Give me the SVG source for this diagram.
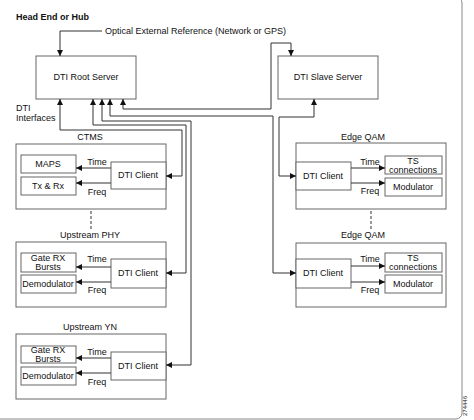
<svg xmlns="http://www.w3.org/2000/svg" width="474" height="420" viewBox="0 0 474 420">
<defs>
<style>
text{font-family:"Liberation Sans",Arial,sans-serif;font-size:9px;fill:#111}
.b{fill:#fff;stroke:#666;stroke-width:1}
.c{fill:none;stroke:#333;stroke-width:1}
.m{text-anchor:middle}
.t{font-weight:bold}
</style>
<marker id="a" viewBox="0 0 10 10" refX="10" refY="5" markerWidth="7" markerHeight="6" orient="auto-start-reverse" markerUnits="userSpaceOnUse"><path d="M0,0 L10,5 L0,10 z" fill="#111"/></marker>
</defs>
<rect x="-6" y="-3" width="468" height="422" rx="6" fill="none" stroke="#888"/>
<text x="16" y="20" class="t">Head End or Hub</text>
<text x="105" y="34">Optical External Reference (Network or GPS)</text>
<text x="467" y="406" class="m" style="font-size:6px" transform="rotate(-90 467 406)">274446</text>
<text x="16" y="111">DTI</text>
<text x="16" y="121">Interfaces</text>

<g id="root"><rect class="b" x="36" y="56" width="100" height="43"/><text x="86" y="80" class="m">DTI Root Server</text></g>
<g id="slave"><rect class="b" x="278" y="56" width="100" height="43"/><text x="328" y="80" class="m">DTI Slave Server</text></g>

<g id="ctms">
<text x="90" y="140" class="m">CTMS</text>
<rect class="b" x="16" y="144" width="150" height="65"/>
<rect class="b" x="21" y="155" width="55" height="18"/><text x="48" y="167" class="m">MAPS</text>
<rect class="b" x="21" y="177" width="55" height="18"/><text x="48" y="189" class="m">Tx &amp; Rx</text>
<rect class="b" x="111" y="162" width="55" height="27"/><text x="138" y="178" class="m">DTI Client</text>
<text x="97" y="165" class="m">Time</text><text x="97" y="195" class="m">Freq</text>
</g>

<g id="phy">
<text x="90" y="238" class="m">Upstream PHY</text>
<rect class="b" x="16" y="242" width="150" height="65"/>
<rect class="b" x="21" y="253" width="55" height="19"/><text x="48" y="261" class="m">Gate RX</text><text x="48" y="270" class="m">Bursts</text>
<rect class="b" x="21" y="275" width="55" height="18"/><text x="48" y="287" class="m">Demodulator</text>
<rect class="b" x="111" y="259" width="55" height="29"/><text x="138" y="276" class="m">DTI Client</text>
<text x="97" y="262" class="m">Time</text><text x="97" y="293" class="m">Freq</text>
</g>

<g id="yn">
<text x="90" y="330" class="m">Upstream YN</text>
<rect class="b" x="16" y="334" width="150" height="65"/>
<rect class="b" x="21" y="346" width="55" height="17"/><text x="48" y="353" class="m">Gate RX</text><text x="48" y="362" class="m">Bursts</text>
<rect class="b" x="21" y="367" width="55" height="18"/><text x="48" y="379" class="m">Demodulator</text>
<rect class="b" x="111" y="352" width="55" height="28"/><text x="138" y="369" class="m">DTI Client</text>
<text x="97" y="355" class="m">Time</text><text x="97" y="385" class="m">Freq</text>
</g>

<g id="qam1">
<text x="363" y="140" class="m">Edge QAM</text>
<rect class="b" x="296" y="143" width="150" height="66"/>
<rect class="b" x="296" y="162" width="55" height="28"/><text x="323" y="179" class="m">DTI Client</text>
<rect class="b" x="385" y="156" width="57" height="18"/><text x="413" y="164" class="m">TS</text><text x="413" y="173" class="m">connections</text>
<rect class="b" x="385" y="178" width="57" height="18"/><text x="413" y="190" class="m">Modulator</text>
<text x="370" y="165" class="m">Time</text><text x="370" y="194" class="m">Freq</text>
</g>

<g id="qam2">
<text x="363" y="238" class="m">Edge QAM</text>
<rect class="b" x="296" y="243" width="150" height="64"/>
<rect class="b" x="296" y="259" width="55" height="29"/><text x="323" y="276" class="m">DTI Client</text>
<rect class="b" x="385" y="253" width="57" height="19"/><text x="413" y="261" class="m">TS</text><text x="413" y="270" class="m">connections</text>
<rect class="b" x="385" y="275" width="57" height="18"/><text x="413" y="287" class="m">Modulator</text>
<text x="370" y="262" class="m">Time</text><text x="370" y="293" class="m">Freq</text>
</g>

<g id="connectors">
<path class="c" d="M102,31 H60 V56" marker-end="url(#a)"/>
<path class="c" d="M123,99 V109 H271 V43 H291 V56" marker-start="url(#a)" marker-end="url(#a)"/>
<path class="c" d="M110,99 V116 H273 V273 H296" marker-start="url(#a)" marker-end="url(#a)"/>
<path class="c" d="M314,99 V117 H279 V176 H296" marker-start="url(#a)" marker-end="url(#a)"/>
<path class="c" d="M102,99 V121 H191 V365 H166" marker-start="url(#a)" marker-end="url(#a)"/>
<path class="c" d="M93,99 V125 H186 V273 H166" marker-start="url(#a)" marker-end="url(#a)"/>
<path class="c" d="M60,99 V130 H182 V176 H166" marker-start="url(#a)" marker-end="url(#a)"/>
<path class="c" d="M111,168 H76" marker-end="url(#a)"/>
<path class="c" d="M111,183 H76" marker-end="url(#a)"/>
<path class="c" d="M111,267 H76" marker-end="url(#a)"/>
<path class="c" d="M111,282 H76" marker-end="url(#a)"/>
<path class="c" d="M111,358 H76" marker-end="url(#a)"/>
<path class="c" d="M111,373 H76" marker-end="url(#a)"/>
<path class="c" d="M351,168 H385" marker-end="url(#a)"/>
<path class="c" d="M351,183 H385" marker-end="url(#a)"/>
<path class="c" d="M351,266 H385" marker-end="url(#a)"/>
<path class="c" d="M351,282 H385" marker-end="url(#a)"/>
<path class="c" d="M91,211 V230" stroke-dasharray="3,2"/>
<path class="c" d="M371,211 V230" stroke-dasharray="3,2"/>
</g>
</svg>
